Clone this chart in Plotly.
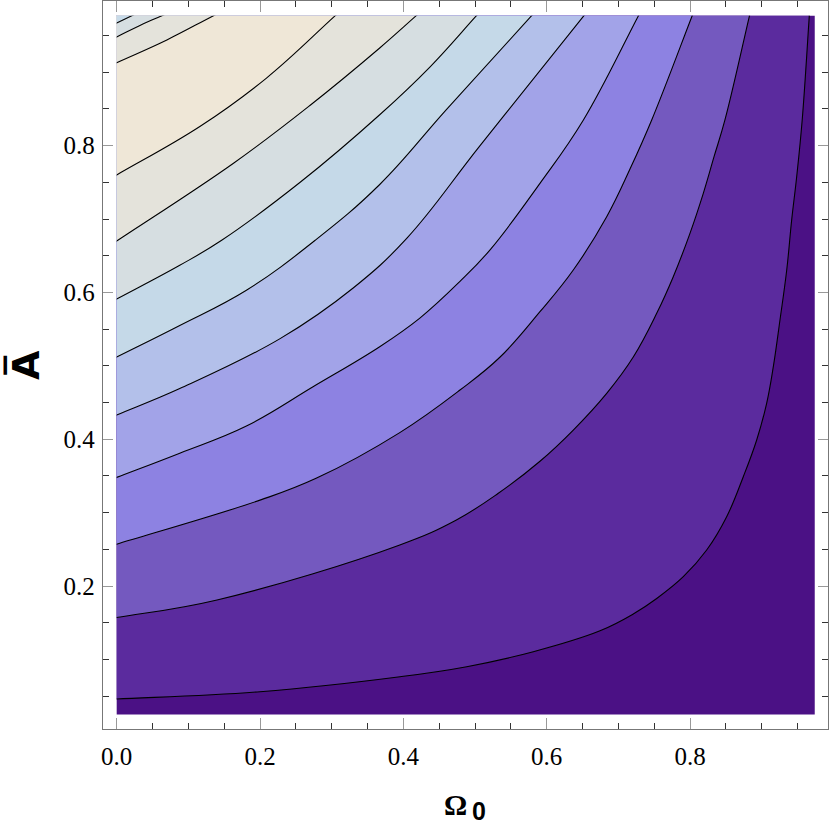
import plotly.graph_objects as go

# plotted region of the contour map
om_lo, om_hi = 0.0, 0.974
a_lo, a_hi = 0.025, 0.977
# frame range (with Mathematica-style padding)
frame_x = [-0.0191, 0.9925]
frame_y = [0.0052, 0.997]

# contour lines, lowest level (bottom right) first
c1_om = [0.000, 0.200, 0.3953, 0.4884, 0.5813, 0.6744, 0.7208, 0.7535, 0.7906, 0.8232, 0.8511,
         0.8743, 0.8930, 0.9069, 0.9162, 0.9255, 0.9349, 0.9418, 0.9488, 0.9565, 0.9664]
c1_a = [0.046, 0.056, 0.0764, 0.0901, 0.1105, 0.1390, 0.1619, 0.1830, 0.2127, 0.2490, 0.2944,
        0.3489, 0.3989, 0.4489, 0.4988, 0.5624, 0.6305, 0.6986, 0.7576, 0.8349, 0.977]
c2_om = [0.000, 0.140, 0.395, 0.474, 0.532, 0.5906, 0.6371, 0.6837, 0.7208, 0.7535, 0.7766,
         0.7999, 0.8185, 0.8335, 0.8487, 0.883]
c2_a = [0.157, 0.181, 0.256, 0.290, 0.326, 0.370, 0.4125, 0.4625, 0.512, 0.5715, 0.6214,
        0.6805, 0.7350, 0.7849, 0.8349, 0.977]
c3_om = [0.000, 0.200, 0.279, 0.395, 0.479, 0.535, 0.5906, 0.6371, 0.6837, 0.7162, 0.7465, 0.803]
c3_a = [0.257, 0.317, 0.347, 0.409, 0.467, 0.512, 0.5737, 0.6305, 0.7031, 0.768, 0.8349, 0.977]
c4_om = [0.000, 0.088, 0.181, 0.274, 0.367, 0.423, 0.479, 0.521, 0.5906, 0.6512, 0.728]
c4_a = [0.348, 0.381, 0.418, 0.4715, 0.526, 0.565, 0.615, 0.658, 0.7486, 0.8349, 0.977]
c5_om = [0.000, 0.088, 0.228, 0.330, 0.405, 0.507, 0.652]
c5_a = [0.433, 0.469, 0.537, 0.606, 0.674, 0.800, 0.977]
c6_om = [0.000, 0.088, 0.181, 0.277, 0.367, 0.460, 0.579]
c6_a = [0.512, 0.555, 0.603, 0.671, 0.747, 0.849, 0.977]
c7_om = [0.000, 0.088, 0.1465, 0.256, 0.367, 0.437, 0.502]
c7_a = [0.591, 0.637, 0.671, 0.750, 0.842, 0.907, 0.977]
c8_om = [0.000, 0.163, 0.270, 0.367, 0.418]
c8_a = [0.670, 0.776, 0.855, 0.933, 0.977]
c9_om = [0.000, 0.116, 0.209, 0.305]
c9_a = [0.760, 0.826, 0.892, 0.977]
c10_om = [0.000, 0.070, 0.135]
c10_a = [0.913, 0.944, 0.977]
c11_om = [0.000, 0.031, 0.063]
c11_a = [0.948, 0.963, 0.977]
c12_om = [0.000, 0.021]
c12_a = [0.967, 0.977]

x_ticks = [0.0, 0.2, 0.4, 0.6, 0.8]
y_ticks = [0.2, 0.4, 0.6, 0.8]

contours = [(c1_om, c1_a), (c2_om, c2_a), (c3_om, c3_a), (c4_om, c4_a),
            (c5_om, c5_a), (c6_om, c6_a), (c7_om, c7_a), (c8_om, c8_a),
            (c9_om, c9_a), (c10_om, c10_a), (c11_om, c11_a), (c12_om, c12_a)]

# band colours, darkest (below first line) to the top-left corner
band_colors = ["#4b1185", "#5b2b9e", "#7459bf", "#8d82e2", "#a2a3e8", "#b3c0ea",
               "#c5d9e8", "#d6dee1", "#e4e3db", "#efe7d7", "#e4e3db", "#d6dee1", "#c8dbe9"]

ext = 0.05
smooth = 1.15


def closed_path(cx, cy):
    # carry the line on past the plot edges and round the top-left corner;
    # everything outside the region is clipped by the inner axes
    s0 = (cy[1] - cy[0]) / (cx[1] - cx[0])
    sn = (cy[-1] - cy[-2]) / (cx[-1] - cx[-2])
    px = [cx[0] - ext] + cx + [cx[-1] + ext / sn, cx[0] - ext]
    py = [cy[0] - ext * s0] + cy + [cy[-1] + ext, cy[-1] + ext]
    return px, py


fig = go.Figure()

# base band fills the whole (clipped) region
fig.add_trace(go.Scatter(
    x=[om_lo - ext, om_hi + ext, om_hi + ext, om_lo - ext],
    y=[a_lo - ext, a_lo - ext, a_hi + ext, a_hi + ext],
    fill="toself", fillcolor=band_colors[0], line=dict(width=0),
    mode="lines", xaxis="x2", yaxis="y2", hoverinfo="skip", showlegend=False))

paths = [closed_path(cx, cy) for cx, cy in contours]

for k, (px, py) in enumerate(paths):
    fig.add_trace(go.Scatter(
        x=px, y=py, fill="toself", fillcolor=band_colors[k + 1],
        mode="lines", line=dict(width=0, shape="spline", smoothing=smooth),
        xaxis="x2", yaxis="y2", hoverinfo="skip", showlegend=False))

# contour lines on top, same path as the band edges
for px, py in paths:
    fig.add_trace(go.Scatter(
        x=px, y=py, mode="lines",
        line=dict(color="black", width=1.1, shape="spline", smoothing=smooth),
        xaxis="x2", yaxis="y2", hoverinfo="skip", showlegend=False))

# empty trace so the framed axes get drawn
fig.add_trace(go.Scatter(x=[], y=[], showlegend=False))

dx = frame_x[1] - frame_x[0]
dy = frame_y[1] - frame_y[0]
tickfont = dict(family="Liberation Serif", size=25, color="black")

fig.update_layout(
    width=830, height=827,
    margin=dict(l=103, r=2, t=1, b=98),
    font=dict(family="Liberation Serif", size=25, color="black"),
    paper_bgcolor="white", plot_bgcolor="rgba(0,0,0,0)",
    xaxis=dict(range=frame_x, showgrid=False, zeroline=False, showline=True,
               linecolor="#777777", linewidth=1.4, mirror="allticks",
               ticks="inside", ticklen=11, tickwidth=1.2, tickcolor="#999999",
               tickvals=x_ticks, ticktext=["%.1f" % v for v in x_ticks],
               tickfont=tickfont, ticklabelstandoff=5,
               minor=dict(ticks="inside", ticklen=6, tickwidth=1, tickcolor="#333333", dtick=0.05, showgrid=False)),
    yaxis=dict(range=frame_y, showgrid=False, zeroline=False, showline=True,
               linecolor="#777777", linewidth=1.4, mirror="allticks",
               ticks="inside", ticklen=10, tickwidth=1.2, tickcolor="#999999",
               tickvals=y_ticks, ticktext=["%.1f" % v for v in y_ticks],
               tickfont=tickfont, ticklabelstandoff=2,
               minor=dict(ticks="inside", ticklen=6, tickwidth=1, tickcolor="#333333", dtick=0.05, showgrid=False)),
    xaxis2=dict(domain=[(om_lo - frame_x[0]) / dx, (om_hi - frame_x[0]) / dx],
                range=[om_lo, om_hi], anchor="y2", visible=False),
    yaxis2=dict(domain=[(a_lo - frame_y[0]) / dy, (a_hi - frame_y[0]) / dy],
                range=[a_lo, a_hi], anchor="x2", visible=False),
)

# axis labels
fig.add_annotation(text="<b>A\u0305</b>", xref="paper", yref="paper", x=0, y=0.5,
                   xanchor="center", yanchor="middle", xshift=-78, textangle=-90,
                   showarrow=False, font=dict(family="DejaVu Sans", size=38, color="black"))
fig.add_annotation(text="<b>\u03a9</b>", xref="paper", yref="paper", x=0.5, y=0,
                   xanchor="center", yanchor="middle", xshift=-10, yshift=-76,
                   showarrow=False, font=dict(family="Liberation Serif", size=29, color="black"))
fig.add_annotation(text="<b>0</b>", xref="paper", yref="paper", x=0.5, y=0,
                   xanchor="center", yanchor="middle", xshift=13, yshift=-82,
                   showarrow=False, font=dict(family="Liberation Sans", size=25, color="black"))

fig.write_html("out.html", config={"displayModeBar": False},
               post_script="document.body.style.margin='0';")
